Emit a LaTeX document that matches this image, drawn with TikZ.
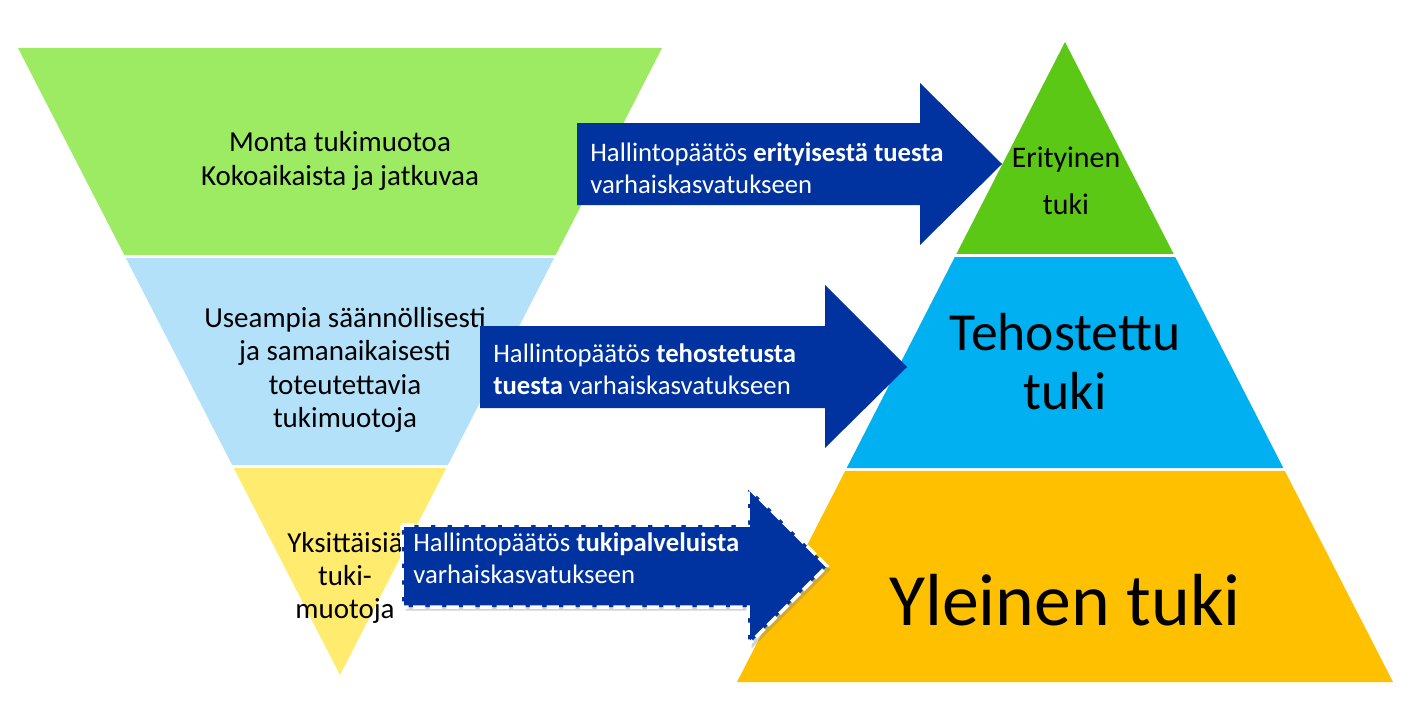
\documentclass[tikz,border=0pt]{standalone}
\usepackage{fontspec}
\setmainfont{Carlito}
\usetikzlibrary{calc,shadows}

\definecolor{funnelgreen}{RGB}{156,235,98}
\definecolor{funnelblue}{RGB}{180,225,250}
\definecolor{funnelyellow}{RGB}{255,235,110}
\definecolor{pyrgreen}{RGB}{92,200,22}
\definecolor{pyrblue}{RGB}{0,176,240}
\definecolor{pyrorange}{RGB}{255,192,0}
\definecolor{decisionblue}{RGB}{0,51,160}

\begin{document}
\begin{tikzpicture}[x=0.02cm,y=-0.02cm,
    leveltext/.style={align=center, font=\fontsize{16.5}{19}\selectfont},
    decisiontext/.style={anchor=west, align=left, text=white, inner sep=0pt,
        font=\fontsize{15.2}{18.3}\selectfont}]
    \useasboundingbox (0,0) rectangle (1412,713);

    % Funnel (inverted triangle)
    \coordinate (fl) at (18,48);
    \coordinate (fr) at (662,48);
    \coordinate (fa) at (340,675);
    \fill[funnelgreen] (fl) -- (fr) -- ($(fr)!0.330!(fa)$) -- ($(fl)!0.330!(fa)$) -- cycle;  % Top band
    \fill[funnelblue] ($(fl)!0.335!(fa)$) -- ($(fr)!0.335!(fa)$) -- ($(fr)!0.665!(fa)$) -- ($(fl)!0.665!(fa)$) -- cycle;  % Middle band
    \fill[funnelyellow] ($(fl)!0.670!(fa)$) -- ($(fr)!0.670!(fa)$) -- (fa) -- cycle;  % Bottom band

    % Pyramid
    \coordinate (pa) at (1065,42);
    \coordinate (pl) at (737,682);
    \coordinate (pr) at (1393,682);
    \fill[pyrgreen] (pa) -- ($(pa)!0.331!(pr)$) -- ($(pa)!0.331!(pl)$) -- cycle;  % Top level
    \fill[pyrblue] ($(pa)!0.336!(pl)$) -- ($(pa)!0.336!(pr)$) -- ($(pa)!0.666!(pr)$) -- ($(pa)!0.666!(pl)$) -- cycle;  % Middle level
    \fill[pyrorange] ($(pa)!0.670!(pl)$) -- ($(pa)!0.670!(pr)$) -- (pr) -- (pl) -- cycle;  % Bottom level

    % Funnel texts
    \node[leveltext] (monta) at (340,161) {Monta tukimuotoa\\Kokoaikaista ja jatkuvaa};
    \node[leveltext] (useampia) at (345,370) {Useampia säännöllisesti\\ja samanaikaisesti\\toteutettavia\\tukimuotoja};
    \node[leveltext] (yksittaisia) at (345,578) {Yksittäisiä\\tuki-\\muotoja};

    % Pyramid texts
    \node[align=center, font=\fontsize{17}{26.5}\selectfont] (erityinen) at (1066,181) {Erityinen\\tuki};
    \node[align=center, font=\fontsize{30.5}{33.5}\selectfont] (tehostettu) at (1065,362) {Tehostettu\\tuki};
    \node[font=\fontsize{42}{48}\selectfont] (yleinen) at (1065,600) {Yleinen tuki};

    % Decision arrows
    \fill[decisionblue] (577,123) -- (920,123) -- (920,83) -- (1002,164) -- (920,245) -- (920,205) -- (577,205) -- cycle;  % Arrow to special support
    \fill[decisionblue] (480,326) -- (825,326) -- (825,285) -- (907,367) -- (825,448) -- (825,408) -- (480,408) -- cycle;  % Arrow to intensified support
    \fill[decisionblue, drop shadow={opacity=0.35, shadow xshift=2pt, shadow yshift=-2pt}]
        (402,525) -- (748,525) -- (748,487) -- (827,566) -- (748,645) -- (748,607) -- (402,607) -- cycle;  % Arrow to general support
    \draw[white, line width=2pt, dash pattern=on 7pt off 2.5pt]
        (402,525) -- (748,525) -- (748,487) -- (827,566) -- (748,645) -- (748,607) -- (402,607) -- cycle;  % Dashed outline

    \node[decisiontext] (erityinen-paatos) at (590,168) {Hallintopäätös \textbf{erityisestä tuesta}\\varhaiskasvatukseen};
    \node[decisiontext] (tehostettu-paatos) at (493,369) {Hallintopäätös \textbf{tehostetusta}\\\textbf{tuesta} varhaiskasvatukseen};
    \node[decisiontext] (tukipalvelu-paatos) at (413,558) {Hallintopäätös \textbf{tukipalveluista}\\varhaiskasvatukseen};
\end{tikzpicture}
\end{document}
